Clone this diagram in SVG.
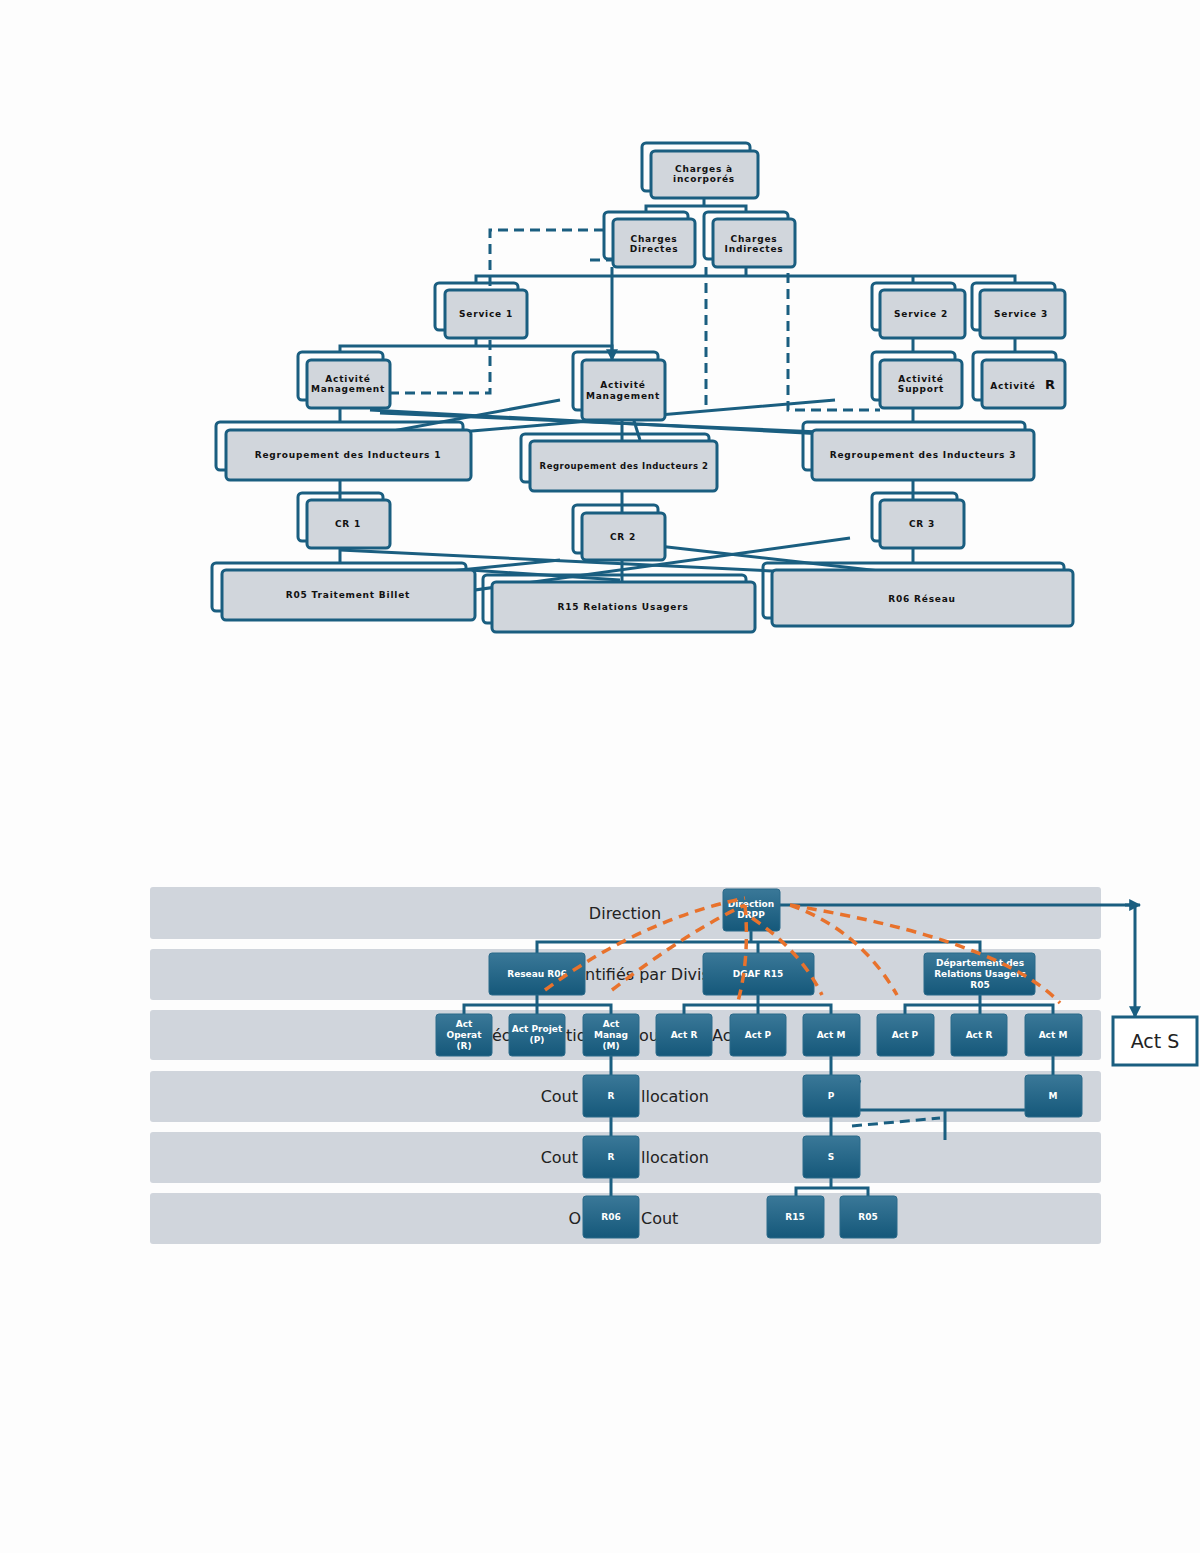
<svg xmlns="http://www.w3.org/2000/svg" width="1200" height="1553" viewBox="0 0 1200 1553">
<defs>
<linearGradient id="bg" x1="0" y1="0" x2="0" y2="1"><stop offset="0" stop-color="#3a7898"/><stop offset="1" stop-color="#15587a"/></linearGradient>
<marker id="ah" viewBox="0 0 10 10" refX="9" refY="5" markerWidth="4" markerHeight="4" orient="auto"><path d="M0,0L10,5L0,10z" fill="#1a5e80"/></marker>
</defs>
<style>
.bk{fill:none;stroke:#1a5e80;stroke-width:3}
.fr{fill:#d1d6dc;stroke:#1a5e80;stroke-width:3}
.t{font-family:"DejaVu Sans",sans-serif;font-size:9px;font-weight:bold;fill:#111;text-anchor:middle;letter-spacing:0.8px}
.ln{fill:none;stroke:#1a5e80;stroke-width:3}
.ds{fill:none;stroke:#1a5e80;stroke-width:3;stroke-dasharray:10,6}
.lane{fill:#d0d5dc}
.lt{font-family:"DejaVu Sans",sans-serif;font-size:16px;fill:#222}
.b{fill:url(#bg);stroke:#2b6a8a;stroke-width:1}
.bt{font-family:"DejaVu Sans",sans-serif;font-size:9px;font-weight:bold;fill:#fff;text-anchor:middle}
.ln2{fill:none;stroke:#1a5e80;stroke-width:3}
.or{fill:none;stroke:#e8722c;stroke-width:3.5;stroke-dasharray:10,7}
</style>
<rect width="1200" height="1553" fill="#fdfdfd"/>
<g id="connectors-top">
<path class="ln" d="M704,198V206H646V212M704,206H746V212"/>
<path class="ln" d="M476,283V276H1015V283M612,267V276M746,267V276M913,276V283"/>
<path class="ln" d="M476,338V346H340V352M476,346H612V352" />
<path class="ln" d="M612,276V360" marker-end="url(#ah)"/>
<path class="ln" d="M913,338V352M1015,338V352"/>
<path class="ln" d="M340,408V422M622,420V441M913,408V422M340,480V500M622,491V513M913,480V500M340,548V562M622,560V582M913,548V562"/>
<path class="ds" d="M604,230H490V393H390M590,260H695M706,267V410M788,225V410H880"/>
<path class="ln" d="M370,410L900,438" marker-end="url(#ah)"/>
<path class="ln" d="M560,400L355,438" marker-end="url(#ah)"/>
<path class="ln" d="M835,400L460,432M380,413L820,432M630,408L640,440"/>
<path class="ln" d="M340,550L960,580" marker-end="url(#ah)"/>
<path class="ln" d="M560,560L360,580" marker-end="url(#ah)"/>
<path class="ln" d="M850,538L345,608" marker-end="url(#ah)"/>
<path class="ln" d="M632,543L960,580M470,570L620,580"/>
</g>
<g id="n1"><rect class="bk" x="642" y="143" width="108" height="48" rx="4"/><rect class="fr" x="651" y="151" width="107" height="47" rx="4"/><text class="t" x="704" y="172">Charges à</text><text class="t" x="704" y="182">incorporés</text></g>
<g id="n2"><rect class="bk" x="604" y="212" width="84" height="47" rx="4"/><rect class="fr" x="613" y="219" width="82" height="48" rx="4"/><text class="t" x="654" y="242">Charges</text><text class="t" x="654" y="252">Directes</text></g>
<g id="n3"><rect class="bk" x="704" y="212" width="84" height="47" rx="4"/><rect class="fr" x="713" y="219" width="82" height="48" rx="4"/><text class="t" x="754" y="242">Charges</text><text class="t" x="754" y="252">Indirectes</text></g>
<g id="n4"><rect class="bk" x="435" y="283" width="83" height="47" rx="4"/><rect class="fr" x="445" y="290" width="82" height="48" rx="4"/><text class="t" x="486" y="317">Service 1</text></g>
<g id="n5"><rect class="bk" x="872" y="283" width="83" height="47" rx="4"/><rect class="fr" x="880" y="290" width="85" height="48" rx="4"/><text class="t" x="921" y="317">Service 2</text></g>
<g id="n6"><rect class="bk" x="972" y="283" width="83" height="47" rx="4"/><rect class="fr" x="980" y="290" width="85" height="48" rx="4"/><text class="t" x="1021" y="317">Service 3</text></g>
<g id="n7"><rect class="bk" x="298" y="352" width="85" height="48" rx="4"/><rect class="fr" x="307" y="360" width="83" height="48" rx="4"/><text class="t" x="348" y="382">Activité</text><text class="t" x="348" y="392">Management</text></g>
<g id="n8"><rect class="bk" x="573" y="352" width="85" height="58" rx="4"/><rect class="fr" x="582" y="360" width="83" height="60" rx="4"/><text class="t" x="623" y="388">Activité</text><text class="t" x="623" y="399">Management</text></g>
<g id="n9"><rect class="bk" x="872" y="352" width="83" height="48" rx="4"/><rect class="fr" x="880" y="360" width="82" height="48" rx="4"/><text class="t" x="921" y="382">Activité</text><text class="t" x="921" y="392">Support</text></g>
<g id="n10"><rect class="bk" x="973" y="352" width="83" height="48" rx="4"/><rect class="fr" x="982" y="360" width="83" height="48" rx="4"/><text class="t" x="1013" y="389">Activité</text><text x="1050" y="389" style="font-family:'DejaVu Sans',sans-serif;font-size:13px;font-weight:bold;fill:#111;text-anchor:middle">R</text></g>
<g id="n11"><rect class="bk" x="216" y="422" width="247" height="48" rx="4"/><rect class="fr" x="226" y="430" width="245" height="50" rx="4"/><text class="t" x="348" y="458">Regroupement des Inducteurs 1</text></g>
<g id="n12"><rect class="bk" x="521" y="434" width="188" height="48" rx="4"/><rect class="fr" x="530" y="441" width="187" height="50" rx="4"/><text class="t" x="624" y="469" style="font-size:8.5px;letter-spacing:0.5px">Regroupement des Inducteurs 2</text></g>
<g id="n13"><rect class="bk" x="803" y="422" width="222" height="48" rx="4"/><rect class="fr" x="812" y="430" width="222" height="50" rx="4"/><text class="t" x="923" y="458">Regroupement des Inducteurs 3</text></g>
<g id="n14"><rect class="bk" x="298" y="493" width="85" height="48" rx="4"/><rect class="fr" x="307" y="500" width="83" height="48" rx="4"/><text class="t" x="348" y="527">CR 1</text></g>
<g id="n15"><rect class="bk" x="573" y="505" width="85" height="48" rx="4"/><rect class="fr" x="582" y="513" width="83" height="47" rx="4"/><text class="t" x="623" y="540">CR 2</text></g>
<g id="n16"><rect class="bk" x="872" y="493" width="85" height="48" rx="4"/><rect class="fr" x="880" y="500" width="84" height="48" rx="4"/><text class="t" x="922" y="527">CR 3</text></g>
<g id="n17"><rect class="bk" x="212" y="563" width="254" height="48" rx="4"/><rect class="fr" x="222" y="570" width="253" height="50" rx="4"/><text class="t" x="348" y="598">R05 Traitement Billet</text></g>
<g id="n18"><rect class="bk" x="483" y="575" width="263" height="48" rx="4"/><rect class="fr" x="492" y="582" width="263" height="50" rx="4"/><text class="t" x="623" y="610">R15 Relations Usagers</text></g>
<g id="n19"><rect class="bk" x="763" y="563" width="301" height="55" rx="4"/><rect class="fr" x="772" y="570" width="301" height="56" rx="4"/><text class="t" x="922" y="602">R06 Réseau</text></g>

<g id="lanes">
<rect class="lane" x="150" y="887" width="951" height="52" rx="3"/>
<rect class="lane" x="150" y="949" width="951" height="51" rx="3"/>
<rect class="lane" x="150" y="1010" width="951" height="50" rx="3"/>
<rect class="lane" x="150" y="1071" width="951" height="51" rx="3"/>
<rect class="lane" x="150" y="1132" width="951" height="51" rx="3"/>
<rect class="lane" x="150" y="1193" width="951" height="51" rx="3"/>
<text class="lt" x="625" y="919" text-anchor="middle">Direction</text>
<text class="lt" x="585" y="980">ntifiés par Divis</text>
<text class="lt" x="492" y="1041">éc</text>
<text class="lt" x="566" y="1041">tio</text>
<text class="lt" x="639" y="1041">ou</text>
<text class="lt" x="712" y="1041">Act</text>
<text class="lt" x="578" y="1102" text-anchor="end">Cout</text>
<text class="lt" x="641" y="1102">llocation</text>
<text class="lt" x="578" y="1163" text-anchor="end">Cout</text>
<text class="lt" x="641" y="1163">llocation</text>
<text class="lt" x="581" y="1224" text-anchor="end">O</text>
<text class="lt" x="641" y="1224">Cout</text>
</g>
<g id="connectors-bottom">
<path class="ln2" d="M751,931V942H537V953M751,942H980V953M758,942V953"/>
<path class="ln2" d="M537,995V1005H464V1014M537,1005H611V1014M537,1005V1014"/>
<path class="ln2" d="M758,995V1005H684V1014M758,1005H831V1014M758,1005V1014"/>
<path class="ln2" d="M980,995V1005H905V1014M980,1005H1053V1014M980,1005V1014"/>
<path class="ln2" d="M611,1056V1196M831,1056V1075M1053,1056V1075M831,1117V1136M831,1178V1188H796V1196M831,1188H868V1196"/>
<path class="ln2" d="M852,1110H1040M945,1110V1140M860,1080Q850,1100 848,1115"/>
<path class="ln2" d="M780,905H1135V1017" marker-end="url(#ah)"/>
<path class="ln2" d="M1125,905H1140" marker-end="url(#ah)"/>
</g>
<g id="b1"><rect class="b" x="723" y="889" width="57" height="42" rx="3"/><text class="bt" x="751" y="907">Direction</text><text class="bt" x="751" y="918">DRPP</text></g>
<g id="b2"><rect class="b" x="489" y="953" width="96" height="42" rx="3"/><text class="bt" x="537" y="977">Reseau R06</text></g>
<g id="b3"><rect class="b" x="703" y="953" width="111" height="42" rx="3"/><text class="bt" x="758" y="977">DGAF R15</text></g>
<g id="b4"><rect class="b" x="924" y="953" width="111" height="42" rx="3"/><text class="bt" x="980" y="966">Département des</text><text class="bt" x="980" y="977">Relations Usagers</text><text class="bt" x="980" y="988">R05</text></g>
<g id="b5"><rect class="b" x="436" y="1014" width="56" height="42" rx="3"/><text class="bt" x="464" y="1027">Act</text><text class="bt" x="464" y="1038">Operat</text><text class="bt" x="464" y="1049">(R)</text></g>
<g id="b6"><rect class="b" x="509" y="1014" width="56" height="42" rx="3"/><text class="bt" x="537" y="1032">Act Projet</text><text class="bt" x="537" y="1043">(P)</text></g>
<g id="b7"><rect class="b" x="583" y="1014" width="56" height="42" rx="3"/><text class="bt" x="611" y="1027">Act</text><text class="bt" x="611" y="1038">Manag</text><text class="bt" x="611" y="1049">(M)</text></g>
<g id="b8"><rect class="b" x="656" y="1014" width="56" height="42" rx="3"/><text class="bt" x="684" y="1038">Act R</text></g>
<g id="b9"><rect class="b" x="730" y="1014" width="56" height="42" rx="3"/><text class="bt" x="758" y="1038">Act P</text></g>
<g id="b10"><rect class="b" x="803" y="1014" width="57" height="42" rx="3"/><text class="bt" x="831" y="1038">Act M</text></g>
<g id="b11"><rect class="b" x="877" y="1014" width="57" height="42" rx="3"/><text class="bt" x="905" y="1038">Act P</text></g>
<g id="b12"><rect class="b" x="951" y="1014" width="56" height="42" rx="3"/><text class="bt" x="979" y="1038">Act R</text></g>
<g id="b13"><rect class="b" x="1025" y="1014" width="57" height="42" rx="3"/><text class="bt" x="1053" y="1038">Act M</text></g>
<g id="b14"><rect class="b" x="583" y="1075" width="56" height="42" rx="3"/><text class="bt" x="611" y="1099">R</text></g>
<g id="b15"><rect class="b" x="803" y="1075" width="57" height="42" rx="3"/><text class="bt" x="831" y="1099">P</text></g>
<g id="b16"><rect class="b" x="1025" y="1075" width="57" height="42" rx="3"/><text class="bt" x="1053" y="1099">M</text></g>
<g id="b17"><rect class="b" x="583" y="1136" width="56" height="42" rx="3"/><text class="bt" x="611" y="1160">R</text></g>
<g id="b18"><rect class="b" x="803" y="1136" width="57" height="42" rx="3"/><text class="bt" x="831" y="1160">S</text></g>
<g id="b19"><rect class="b" x="583" y="1196" width="56" height="42" rx="3"/><text class="bt" x="611" y="1220">R06</text></g>
<g id="b20"><rect class="b" x="767" y="1196" width="57" height="42" rx="3"/><text class="bt" x="795" y="1220">R15</text></g>
<g id="b21"><rect class="b" x="840" y="1196" width="57" height="42" rx="3"/><text class="bt" x="868" y="1220">R05</text></g>
<g id="b22"><rect x="1113" y="1017" width="84" height="48" fill="#fff" stroke="#1a5e80" stroke-width="3"/><text x="1155" y="1048" style="font-family:'DejaVu Sans',sans-serif;font-size:19px;fill:#222;text-anchor:middle">Act S</text></g>
<g id="orange">
<path class="or" d="M545,990Q640,920 745,898M612,990Q690,930 745,905M745,905Q750,960 737,1005M752,918Q800,950 822,995M790,905Q860,930 897,995M790,905Q1000,940 1060,1003"/>
<path class="ln2" d="M852,1126L940,1118" style="stroke-dasharray:10,6"/>
</g>
</svg>
